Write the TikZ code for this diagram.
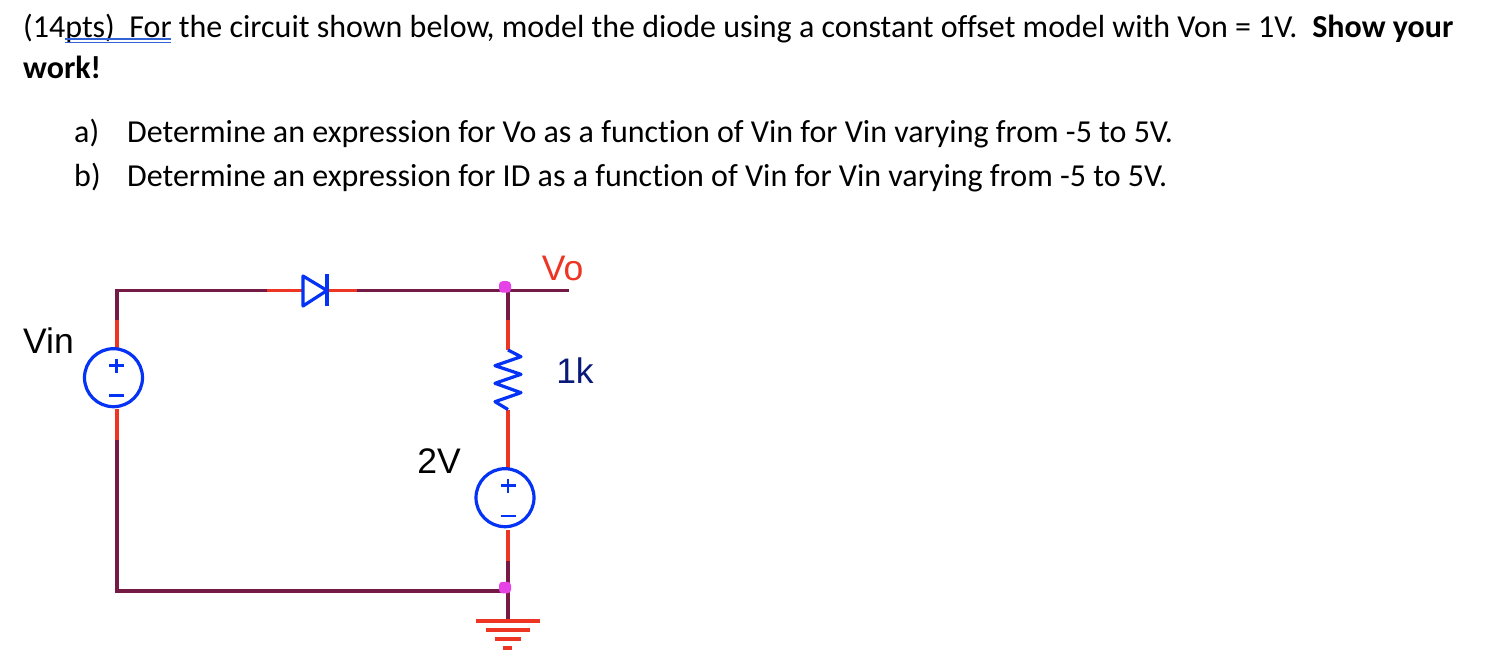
\documentclass[tikz,border=0pt]{standalone}
\usepackage{fontspec}
\setmainfont{Carlito}[Ligatures=NoCommon]
\newfontfamily\schfont{Liberation Sans}
\definecolor{wirec}{HTML}{751A45}
\definecolor{stubc}{HTML}{EE3524}
\definecolor{symc}{HTML}{0433F5}
\definecolor{dotc}{HTML}{E643E6}
\definecolor{navyc}{HTML}{0A1A78}
\definecolor{ulc}{HTML}{3262D6}
\tikzset{
  wire/.style={draw=wirec,line width=3.05pt},
  stub/.style={draw=stubc,line width=3.05pt},
  sym/.style={draw=symc,line width=3.2pt},
  signmark/.style={draw=symc,line width=2.8pt},
  srcring/.style={circle,draw=symc,line width=3.2pt,minimum size=58pt,inner sep=0pt},
  junction/.style={rounded corners=3.5pt,fill=dotc,minimum width=12pt,minimum height=11.5pt,inner sep=0pt},
  para/.style={anchor=base west,inner sep=0pt,font=\fontsize{32}{38}\selectfont,text=black},
  schlabel/.style={anchor=center,inner sep=0pt,font=\schfont\fontsize{35.5}{40}\selectfont},
  ul/.style={draw=ulc,line width=1.5pt}
}
\begin{document}
\begin{tikzpicture}[x=1pt,y=-1pt]
\useasboundingbox (0,0) rectangle (1512,668);
\fill[white] (0,0) rectangle (1512,668);
% text
\node[para] (t1) at (23,37.6) {(14pts)\ \ For the circuit shown below, model the diode using a constant offset model with Von = 1V.\ \ \textbf{Show your}};
\node[para] (t2) at (23,78.6) {\textbf{work!}};
\node[para] (a1) at (74,142.8) {a)};
\node[para] (a2) at (127,142.8) {Determine an expression for Vo as a function of Vin for Vin varying from -5 to 5V.};
\node[para] (b1) at (74,186.8) {b)};
\node[para] (b2) at (127,186.8) {Determine an expression for ID as a function of Vin for Vin varying from -5 to 5V.};
\coordinate (u1) at (65,39); \coordinate (u2) at (171,39);
\coordinate (u3) at (65,42.5); \coordinate (u4) at (171,42.5);
\draw[ul] (u1) -- (u2); \draw[ul] (u3) -- (u4);
% coordinates
\coordinate (tl) at (117,290.5);
\coordinate (bl) at (117,591);
\coordinate (dl) at (267,290.5);
\coordinate (da) at (303,290.5);
\coordinate (dc) at (327,290.5);
\coordinate (dr) at (357,290.5);
\coordinate (vo) at (569,290.5);
\coordinate (jt) at (508,290.5);
\coordinate (rt0) at (508,320);
\coordinate (rt) at (508,350);
\coordinate (rb) at (508,409.5);
\coordinate (s2t) at (508,470);
\coordinate (s2b) at (508,530);
\coordinate (s2w) at (508,561);
\coordinate (jb) at (508,591);
\coordinate (gnd) at (508,621);
\coordinate (s1w) at (117,320);
\coordinate (s1t) at (117,350);
\coordinate (s1b) at (117,409);
\coordinate (s1x) at (117,440);
% wires
\draw[wire,line join=miter] (s1w) -- (tl) -- (dl);
\draw[wire] (dr) -- (vo);
\draw[wire] (jt) -- (rt0);
\draw[wire] (s1x) -- (bl) -- (jb);
\draw[wire] (s2w) -- (gnd);
% red stubs
\draw[stub] (s1w) -- (s1t);
\draw[stub] (s1b) -- (s1x);
\draw[stub] (dl) -- (da);
\draw[stub] (dc) -- (dr);
\draw[stub] (rt0) -- (rt);
\draw[stub] (rb) -- (s2t);
\draw[stub] (s2b) -- (s2w);
% diode
\draw[sym,line join=round] (303,276) -- (327,290.5) -- (303,306) -- cycle;
\draw[sym] (327,274) -- (327,306);
% resistor
\draw[sym,line join=round] (rt) -- (521,356.7) -- (495,365.7) -- (521,374.3) -- (495,383.3) -- (521,392.7) -- (495,401.7) -- (rb);
% sources
\node[srcring] (s1) at (113.5,377.7) {};
\draw[signmark] (109,365.7) -- (124,365.7);
\draw[signmark] (116.7,358.5) -- (116.7,372.5);
\draw[signmark] (109,395.7) -- (124,395.7);
\node[srcring] (s2) at (505,497.7) {};
\draw[signmark] (500.5,485.7) -- (515.5,485.7);
\draw[signmark] (508,478.5) -- (508,492.5);
\draw[signmark] (500.5,516) -- (515.5,516);
% ground
\draw[stub] (476,621) -- (540,621);
\draw[stub] (486,630) -- (530,630);
\draw[stub] (495,639) -- (521,639);
\draw[stub] (503,648) -- (512,648);
% junctions
\node[junction] (n1) at (505,287) {};
\node[junction] (n2) at (505,587.5) {};
% labels
\node[schlabel,text=stubc] (lvo) at (562.5,268) {Vo};
\node[schlabel,text=black] (lvin) at (48.5,341) {Vin};
\node[schlabel,text=navyc] (l1k) at (575,371) {1k};
\node[schlabel,text=black] (l2v) at (439,461) {2V};
\end{tikzpicture}
\end{document}
